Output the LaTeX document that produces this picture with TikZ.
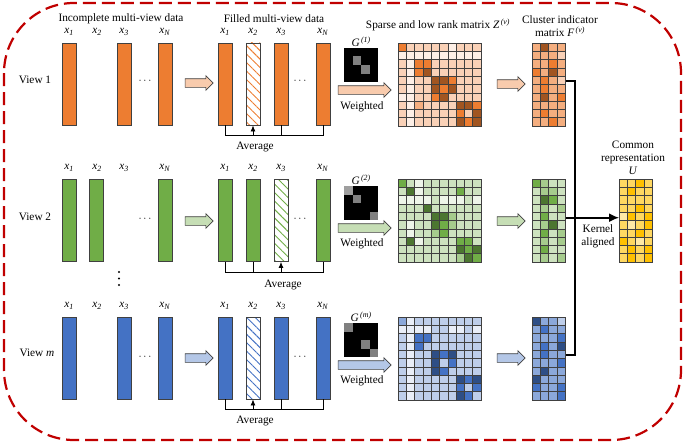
\documentclass[tikz,border=0pt]{standalone}
\usepackage{fontspec}
\setmainfont{Liberation Serif}
\definecolor{vieworange}{RGB}{237,125,49}
\definecolor{viewgreen}{RGB}{112,173,71}
\definecolor{viewblue}{RGB}{68,114,196}
\definecolor{viewgold}{RGB}{255,192,0}
\definecolor{borderred}{RGB}{192,0,0}
\definecolor{edgegray}{RGB}{64,64,64}
\usetikzlibrary{shapes.arrows,arrows.meta,patterns.meta,calc}

\tikzset{
  bar/.style={draw=edgegray, line width=0.8pt, fill=#1, minimum width=14, minimum height=82, inner sep=0},
  hatchbar/.style={draw=edgegray, line width=0.8pt, pattern={Lines[angle=-45,distance=6pt,line width=0.9pt]}, pattern color=#1, minimum width=14, minimum height=82, inner sep=0},
  blockarrow/.style={single arrow, draw=edgegray, line width=0.6pt, fill=#1, minimum width=14, single arrow head extend=3, inner xsep=0, inner ysep=4, minimum height=28},
  gbox/.style={fill=black, minimum size=34, inner sep=0},
  bracket/.style={line width=0.8pt},
  link/.style={line width=1.6pt},
}

\newcommand{\xv}[1]{\textit{x}\textsubscript{\textit{#1}}}
\newcommand{\supv}[2]{\textit{#1}\textsuperscript{\,\textit{#2}}}

% matrix of shaded cells: name, top-left, columns, colour, rows of levels 0..4
\newcommand{\cellgrid}[5]{%
  \colorlet{lev0}{#4!12}\colorlet{lev1}{#4!35}\colorlet{lev2}{#4!62}%
  \colorlet{lev3}{#4}\colorlet{lev4}{#4!68!black}%
  \node[inner sep=0, minimum width=#3*8.3, minimum height=83, anchor=north west] (#1) at #2 {};
  \begin{scope}[shift={#2}]
    \foreach \cells [count=\ri from 0] in {#5}
      \foreach \v [count=\ci from 0] in \cells
        \filldraw[fill=lev\v, draw=edgegray, line width=0.6pt] (\ci*8.3,\ri*8.3) rectangle ++(8.3,8.3);
  \end{scope}
}

\begin{document}
\begin{tikzpicture}[x=1pt, y=-1pt, every node/.style={font=\fontsize{11.3}{13}\selectfont}]
    \useasboundingbox (0,0) rectangle (685,444);
    \draw[borderred, line width=2.2pt, dash pattern=on 13pt off 6pt, rounded corners=70] (4,3) rectangle (681,440);

    % headings
    \node (tincomp) at (121,19) {Incomplete multi-view data};
    \node (tfilled) at (274,19) {Filled multi-view data};
    \node (tsparse) at (438,25) {Sparse and low rank matrix \supv{Z}{(v)}};
    \node[align=center] (tcluster) at (560,26.5) {Cluster indicator\\matrix \supv{F}{(v)}};

    % view 1
    \node (view1) at (35,80) {View 1};
    \foreach \xp/\lab [count=\k] in {69/1,97/2,124/3,165/N}
        \node (li1\k) at (\xp,32) {\xv{\lab}};
    \node[bar=vieworange] (io11) at (69,84) {};
    \node[bar=vieworange] (io13) at (124,84) {};
    \node[bar=vieworange] (io1N) at (165.5,84) {};
    \node (dots1) at (145,81) {$\cdots$};
    \node[blockarrow=vieworange!40] (a1) at (197,83) {};
    \foreach \xp/\lab [count=\k] in {225/1,253/2,281/3,323/N}
        \node (lf1\k) at (\xp,32) {\xv{\lab}};
    \node[bar=vieworange] (fo11) at (225,84) {};
    \node[hatchbar=vieworange] (fo12) at (253,84) {};
    \node[bar=vieworange] (fo13) at (281,84) {};
    \node[bar=vieworange] (fo1N) at (323,84) {};
    \node (fdots1) at (300,81) {$\cdots$};
    \coordinate (avg1) at (0,135);
    \draw[bracket] (fo11.south) |- (fo1N.south |- avg1) -- (fo1N.south);
    \draw[bracket] (fo13.south) -- (fo13.south |- avg1);
    \draw[bracket, -{Latex[length=6pt,width=5pt]}] (fo12.south |- avg1) -- (fo12.south);
    \node (avgt1) at (255,147) {Average};
    \node[gbox, anchor=north west] (G1) at (344,48) {};
    \foreach \i/\j in {1/1,2/2}
        \fill[gray] ([shift={(\i*8.5,\j*8.5)}]G1.north west) rectangle ++(8.5,8.5);
    \node[above, inner sep=1] (gl1) at (G1.north) {\supv{G}{(1)}};
    \node[blockarrow=vieworange!40, minimum height=53] (w1) at (362.5,90) {};
    \node (wt1) at (362,107) {Weighted};
    \cellgrid{Z1}{(398,43)}{10}{vieworange}{{3,1,1,1,1,1,0,1,1,1},{0,0,0,0,0,0,0,0,0,0},{1,0,3,3,1,1,1,1,1,1},{1,0,3,4,1,1,1,1,1,1},{1,0,1,1,4,4,3,1,1,1},{1,0,1,1,4,3,4,1,1,1},{0,0,1,1,3,4,1,1,1,1},{1,0,2,1,1,1,1,4,4,3},{1,0,1,1,1,1,1,3,1,4},{1,0,1,1,1,1,1,4,3,4}}
    \node[blockarrow=vieworange!40] (s1) at (509,84) {};
    \cellgrid{F1}{(532,43)}{4}{vieworange}{{2,4,2,2},{2,2,2,1},{2,2,3,2},{3,2,4,2},{2,3,2,1},{2,3,2,2},{2,4,2,3},{2,2,2,2},{2,3,2,2},{2,2,3,2}}

    % view 2
    \node (view2) at (35,217) {View 2};
    \foreach \xp/\lab [count=\k] in {69/1,97/2,124/3,165/N}
        \node (li2\k) at (\xp,168) {\xv{\lab}};
    \node[bar=viewgreen] (ig21) at (69,220.5) {};
    \node[bar=viewgreen] (ig22) at (96,220.5) {};
    \node[bar=viewgreen] (ig2N) at (165.5,220.5) {};
    \node (dots2) at (145,219) {$\cdots$};
    \foreach \yp in {272,278.5,285}
        \fill (119,\yp) circle (1.2);
    \node[blockarrow=viewgreen!40] (a2) at (197,221) {};
    \foreach \xp/\lab [count=\k] in {225/1,253/2,281/3,323/N}
        \node (lf2\k) at (\xp,168) {\xv{\lab}};
    \node[bar=viewgreen] (fg21) at (225,220.5) {};
    \node[bar=viewgreen] (fg22) at (253,220.5) {};
    \node[hatchbar=viewgreen] (fg23) at (281,220.5) {};
    \node[bar=viewgreen] (fg2N) at (323,220.5) {};
    \node (fdots2) at (300,219) {$\cdots$};
    \coordinate (avg2) at (0,272);
    \draw[bracket] (fg21.south) |- (fg2N.south |- avg2) -- (fg2N.south);
    \draw[bracket] (fg22.south) -- (fg22.south |- avg2);
    \draw[bracket, -{Latex[length=6pt,width=5pt]}] (fg23.south |- avg2) -- (fg23.south);
    \node (avgt2) at (283,285) {Average};
    \node[gbox, anchor=north west] (G2) at (344,186) {};
    \fill[gray!75] (G2.north west) rectangle ++(8.5,8.5);
    \foreach \i/\j in {1/1,3/3}
        \fill[gray] ([shift={(\i*8.5,\j*8.5)}]G2.north west) rectangle ++(8.5,8.5);
    \node[above, inner sep=1] (gl2) at (G2.north) {\supv{G}{(2)}};
    \node[blockarrow=viewgreen!40, minimum height=53] (w2) at (362.5,228) {};
    \node (wt2) at (362,244) {Weighted};
    \cellgrid{Z2}{(398,179)}{10}{viewgreen}{{3,1,0,1,1,1,1,1,1,1},{1,4,0,1,1,1,1,3,1,1},{0,0,0,0,1,0,0,0,1,0},{1,1,1,4,1,1,1,1,1,1},{1,1,1,1,4,4,2,1,1,1},{1,0,1,1,4,3,2,1,1,1},{1,0,1,1,2,3,1,1,1,1},{1,4,0,1,1,1,1,3,3,1},{1,1,1,1,1,1,1,4,3,4},{1,1,1,1,1,1,1,2,4,3}}
    \node[blockarrow=viewgreen!40] (s2) at (509,221) {};
    \cellgrid{F2}{(532,179)}{4}{viewgreen}{{3,2,1,1},{1,2,2,1},{1,4,3,1},{1,2,1,2},{1,3,1,1},{1,2,4,1},{1,3,1,2},{1,2,1,2},{1,3,1,1},{1,2,1,2}}

    % view m
    \node (viewm) at (37,353) {View \textit{m}};
    \foreach \xp/\lab [count=\k] in {69/1,97/2,124/3,165/N}
        \node (li3\k) at (\xp,306) {\xv{\lab}};
    \node[bar=viewblue] (ib31) at (69,358) {};
    \node[bar=viewblue] (ib33) at (124,358) {};
    \node[bar=viewblue] (ib3N) at (165.5,358) {};
    \node (dots3) at (145,357) {$\cdots$};
    \node[blockarrow=viewblue!40] (a3) at (197,358) {};
    \foreach \xp/\lab [count=\k] in {225/1,253/2,281/3,323/N}
        \node (lf3\k) at (\xp,306) {\xv{\lab}};
    \node[bar=viewblue] (fb31) at (225,358) {};
    \node[hatchbar=viewblue] (fb32) at (253,358) {};
    \node[bar=viewblue] (fb33) at (281,358) {};
    \node[bar=viewblue] (fb3N) at (323,358) {};
    \node (fdots3) at (300,357) {$\cdots$};
    \coordinate (avg3) at (0,409);
    \draw[bracket] (fb31.south) |- (fb3N.south |- avg3) -- (fb3N.south);
    \draw[bracket] (fb33.south) -- (fb33.south |- avg3);
    \draw[bracket, -{Latex[length=6pt,width=5pt]}] (fb32.south |- avg3) -- (fb32.south);
    \node (avgt3) at (255,421) {Average};
    \node[gbox, anchor=north west] (G3) at (344,323) {};
    \foreach \i/\j in {0/0,2/2,3/3}
        \fill[gray] ([shift={(\i*8.5,\j*8.5)}]G3.north west) rectangle ++(8.5,8.5);
    \node[above, inner sep=1] (gl3) at (G3.north) {\supv{G}{(m)}};
    \node[blockarrow=viewblue!40, minimum height=53] (w3) at (362.5,365) {};
    \node (wt3) at (362,381) {Weighted};
    \cellgrid{Z3}{(398,317)}{10}{viewblue}{{2,0,1,1,1,1,1,1,1,1},{0,0,0,0,1,1,0,0,1,0},{1,0,3,3,1,1,1,1,1,1},{1,0,3,1,1,1,1,1,1,1},{1,0,1,1,4,3,4,1,1,1},{1,0,1,1,4,1,3,1,1,1},{1,0,1,1,4,3,1,1,1,1},{1,0,1,1,1,1,1,4,3,4},{1,0,1,1,1,1,1,3,1,3},{1,0,1,1,1,1,1,4,3,1}}
    \node[blockarrow=viewblue!40] (s3) at (509,358) {};
    \cellgrid{F3}{(532,317)}{4}{viewblue}{{4,2,2,1},{2,3,2,2},{2,2,2,3},{2,3,2,4},{2,3,2,2},{2,2,2,3},{2,4,2,2},{4,2,2,2},{3,2,2,3},{2,2,2,3}}

    % common representation
    \node[align=center] (tcommon) at (633,158) {Common\\representation\\\textit{U}};
    \cellgrid{U}{(619,179)}{4}{viewgold}{{2,2,3,2},{2,3,2,2},{2,2,2,2},{2,2,3,2},{1,3,2,3},{2,1,2,3},{2,2,3,2},{3,2,1,2},{2,3,2,3},{2,3,2,3}}
    \coordinate (join) at (575,220.5);
    \draw[link] ([yshift=4pt]F1.east) -| (join) |- ([yshift=4pt]F3.east);
    \draw[link, -{Latex[length=10pt,width=9pt]}] ([yshift=3pt]F2.east) -- ([yshift=3pt]U.west);
    \node[align=center] (tkernel) at (598,236) {Kernel\\aligned};
\end{tikzpicture}
\end{document}
